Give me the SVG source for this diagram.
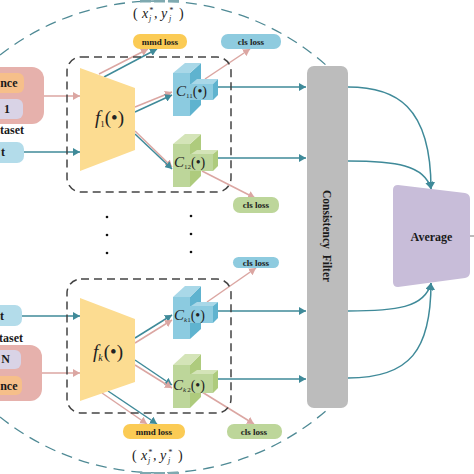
<svg xmlns="http://www.w3.org/2000/svg" width="474" height="474" viewBox="0 0 474 474">
<defs>
<marker id="at" markerUnits="userSpaceOnUse" markerWidth="9" markerHeight="8" refX="7" refY="4" orient="auto"><path d="M0,0L7,4L0,8z" fill="#3f8a99"/></marker>
<marker id="ap" markerUnits="userSpaceOnUse" markerWidth="9" markerHeight="8" refX="7" refY="4" orient="auto"><path d="M0,0L7,4L0,8z" fill="#dba6a2"/></marker>
</defs>
<style>
text{font-family:"Liberation Serif",serif;font-weight:bold;fill:#1a1a1a}
.l{font-size:9px;text-anchor:middle}
.s{font-size:12px;text-anchor:end}
.m{font-style:italic;font-weight:normal;fill:#222}
.n{font-style:normal}
.t{fill:none;stroke:#3f8a99;stroke-width:1.5;marker-end:url(#at)}
.p{fill:none;stroke:#dba6a2;stroke-width:1.5;marker-end:url(#ap)}
.d{fill:none;stroke:#444;stroke-width:1.5;stroke-dasharray:8 5}
.e{fill:none;stroke:#4f8a95;stroke-width:1.3;stroke-dasharray:11 7}
.bt{fill:#8ccbe0}.bs{fill:#5fb3cf}.bu{fill:#a9d8e8}
.gt{fill:#bdd69a}.gs{fill:#aecb7d}.gu{fill:#d4e4b8}
</style>
<rect width="474" height="474" fill="#fff"/>
<g id="boundary">
<path class="e" d="M0,55A255,255 0 0 1 327,66"/>
<path class="e" d="M0,417A255,255 0 0 0 328,409"/>
<path d="M140,1H180" fill="none" stroke="#7fa9b0" stroke-width="3" stroke-dasharray="11 3"/>
<path d="M140,473H180" fill="none" stroke="#7fa9b0" stroke-width="2" stroke-dasharray="11 3"/>
</g>
<g id="connectors">
<path class="p" d="M44,96H80"/>
<path class="t" d="M24,152H80"/>
<path class="t" d="M22,316H80"/>
<path class="p" d="M42,373H80"/>
<path class="p" d="M99,74L148,49"/>
<path class="t" d="M104,77L157,49"/>
<path class="p" d="M135,107L172,92"/>
<path class="t" d="M135,112L172,95"/>
<path class="p" d="M135,131L172,167"/>
<path class="t" d="M135,134L172,169"/>
<path class="p" d="M205,79L250,49"/>
<path class="p" d="M202,171L255,198"/>
<path class="t" d="M218,87H306"/>
<path class="t" d="M218,158H306"/>
<path class="t" d="M135,338L172,315"/>
<path class="p" d="M135,343L172,320"/>
<path class="t" d="M135,360L172,385"/>
<path class="p" d="M135,365L172,388"/>
<path class="t" d="M108,391L157,424"/>
<path class="p" d="M102,393L147,424"/>
<path class="p" d="M207,302L256,268"/>
<path class="p" d="M202,392L254,424"/>
<path class="t" d="M218,311H306"/>
<path class="t" d="M218,379H306"/>
<path class="t" d="M348,87C395,87 431,105 431,189"/>
<path class="t" d="M348,161C395,161 425,165 431,189"/>
<path class="t" d="M348,311C395,311 425,308 431,283"/>
<path class="t" d="M348,378C410,378 431,350 431,283"/>
<path fill="none" stroke="#777" stroke-width="1" d="M470,236H474"/>
</g>
<g id="source-top">
<rect x="-30" y="67" width="74" height="57" rx="12" fill="#e6b1ac"/>
<rect x="-25" y="73" width="49" height="20" rx="6" fill="#f6bf8a"/>
<rect x="-25" y="99" width="48" height="20" rx="6" fill="#d9d3e6"/>
<text x="17.500" y="87" class="s">nce</text>
<text x="10" y="113" class="s">1</text>
<text x="24" y="134" class="s">taset</text>
</g>
<g id="target-top"><rect x="-25" y="142" width="49" height="21" rx="7" fill="#b3dcea"/><text x="5" y="156" class="s">t</text></g>
<g id="target-bottom"><rect x="-25" y="305" width="47" height="21" rx="7" fill="#b3dcea"/><text x="4" y="320" class="s">t</text></g>
<g id="source-bottom">
<rect x="-30" y="345" width="72" height="56" rx="12" fill="#e6b1ac"/>
<rect x="-25" y="350" width="46" height="19" rx="6" fill="#d9d3e6"/>
<rect x="-25" y="376" width="47" height="19" rx="6" fill="#f6bf8a"/>
<text x="23" y="342" class="s">taset</text>
<text x="10" y="363" class="s">N</text>
<text x="17.500" y="390" class="s">nce</text>
</g>
<g id="net-top">
<rect x="67" y="57" width="164" height="135" rx="14" class="d"/>
<path d="M80,68L135,88V150L80,171z" fill="#fcdc91"/>
<text x="95" y="124" class="m" font-size="19">f<tspan class="n" font-size="9" dy="3">1</tspan><tspan class="n" dy="-3">(•)</tspan></text>
</g>
<g id="net-bottom">
<rect x="67" y="279" width="164" height="134" rx="14" class="d"/>
<path d="M80,298L135,319V382L80,401z" fill="#fcdc91"/>
<text x="93" y="358" class="m" font-size="19">f<tspan font-size="10" dy="3">k</tspan><tspan class="n" dy="-3" dx="1">(•)</tspan></text>
</g>
<g id="c11">
<path class="bs" d="M190,73L201,63V105L190,116z"/><path class="bu" d="M173,73L185,63H201L190,73z"/><rect class="bt" x="173" y="73" width="17" height="43"/>
<path class="bu" d="M191,84L197,79H218L213,84z"/><path class="bs" d="M213,84L218,79V95L213,100z"/><rect class="bt" x="190" y="84" width="23" height="16"/>
<text x="176" y="96" class="m" font-size="15">C<tspan class="n" font-size="7" dy="2">11</tspan><tspan class="n" font-size="14" dy="-2">(•)</tspan></text>
</g>
<g id="c12">
<path class="gs" d="M190,144L201,134V176L190,187z"/><path class="gu" d="M173,144L185,134H201L190,144z"/><rect class="gt" x="173" y="144" width="17" height="43"/>
<path class="gu" d="M191,154L197,150H218L213,154z"/><path class="gs" d="M213,154L218,150V166L213,171z"/><rect class="gt" x="190" y="154" width="23" height="17"/>
<text x="174" y="167" class="m" font-size="15">C<tspan class="n" font-size="7" dy="2">12</tspan><tspan class="n" font-size="14" dy="-2">(•)</tspan></text>
</g>
<g id="c41">
<path class="bs" d="M190,297L201,286V329L190,339z"/><path class="bu" d="M173,297L185,286H201L190,297z"/><rect class="bt" x="173" y="297" width="17" height="42"/>
<path class="bu" d="M191,306L197,302H218L213,306z"/><path class="bs" d="M213,306L218,302V318L213,323z"/><rect class="bt" x="190" y="306" width="23" height="17"/>
<text x="174" y="320" class="m" font-size="15">C<tspan font-size="7" dy="2">k</tspan><tspan class="n" font-size="7">1</tspan><tspan class="n" font-size="14" dy="-2">(•)</tspan></text>
</g>
<g id="c42">
<path class="gs" d="M190,365L201,354V397L190,408z"/><path class="gu" d="M173,365L185,354H201L190,365z"/><rect class="gt" x="173" y="365" width="17" height="43"/>
<path class="gu" d="M191,374L197,370H218L213,374z"/><path class="gs" d="M213,374L218,370V388L213,393z"/><rect class="gt" x="190" y="374" width="23" height="19"/>
<text x="173" y="390" class="m" font-size="15">C<tspan font-size="7" dy="2">k</tspan><tspan class="n" font-size="7" dx="1">2</tspan><tspan class="n" font-size="14" dy="-2">(•)</tspan></text>
</g>
<g id="mmd-top"><rect x="133" y="34" width="54" height="15" rx="7" fill="#fbcb55"/><text x="160" y="44.500" class="l">mmd loss</text></g>
<g id="mmd-bottom"><rect x="123" y="424" width="62" height="15" rx="7" fill="#fbcb55"/><text x="154" y="434.500" class="l">mmd loss</text></g>
<g id="cls-1"><rect x="221" y="34" width="60" height="15" rx="7" fill="#8ecbdf"/><text x="251" y="44.500" class="l">cls loss</text></g>
<g id="cls-2"><rect x="233" y="197" width="46" height="16" rx="7" fill="#bdd69a"/><text x="256" y="208" class="l">cls loss</text></g>
<g id="cls-3"><rect x="233" y="257" width="46" height="11" rx="5.500" fill="#8ecbdf"/><text x="256" y="265.500" class="l">cls loss</text></g>
<g id="cls-4"><rect x="227" y="424" width="55" height="15" rx="7" fill="#bdd69a"/><text x="254" y="434.500" class="l">cls loss</text></g>
<g id="dots" fill="#111"><circle cx="107" cy="217" r="1.300"/><circle cx="107" cy="235" r="1.300"/><circle cx="107" cy="253" r="1.300"/><circle cx="191" cy="216" r="1.300"/><circle cx="191" cy="234" r="1.300"/><circle cx="191" cy="252" r="1.300"/></g>
<g id="filter"><rect x="307" y="66" width="41" height="342" rx="7" fill="#bcbcbc"/><text transform="translate(323,190) rotate(90)" font-size="11.500" style="word-spacing:3px">Consistency Filter</text></g>
<g id="average"><path d="M398,185L465,193Q470,194 470,199V272Q470,277 465,278L398,287Q393,287 393,282V190Q393,185 398,185z" fill="#c8bdd9"/><text x="431.500" y="241" font-size="12" text-anchor="middle">Average</text></g>
<g id="labels">
<text y="18" class="m" font-size="14"><tspan x="133" class="n">(</tspan><tspan x="142">x</tspan><tspan x="149" dy="-5" font-size="8">*</tspan><tspan x="149" dy="8" font-size="8">j</tspan><tspan x="154" dy="-3">,</tspan><tspan x="161">y</tspan><tspan x="169" dy="-5" font-size="8">*</tspan><tspan x="169" dy="8" font-size="8">j</tspan><tspan x="179" dy="-3" class="n">)</tspan></text>
<text y="460" class="m" font-size="14"><tspan x="132" class="n">(</tspan><tspan x="141">x</tspan><tspan x="148" dy="-5" font-size="8">*</tspan><tspan x="148" dy="8" font-size="8">j</tspan><tspan x="153" dy="-3">,</tspan><tspan x="160">y</tspan><tspan x="168" dy="-5" font-size="8">*</tspan><tspan x="168" dy="8" font-size="8">j</tspan><tspan x="178" dy="-3" class="n">)</tspan></text>
</g>
</svg>
